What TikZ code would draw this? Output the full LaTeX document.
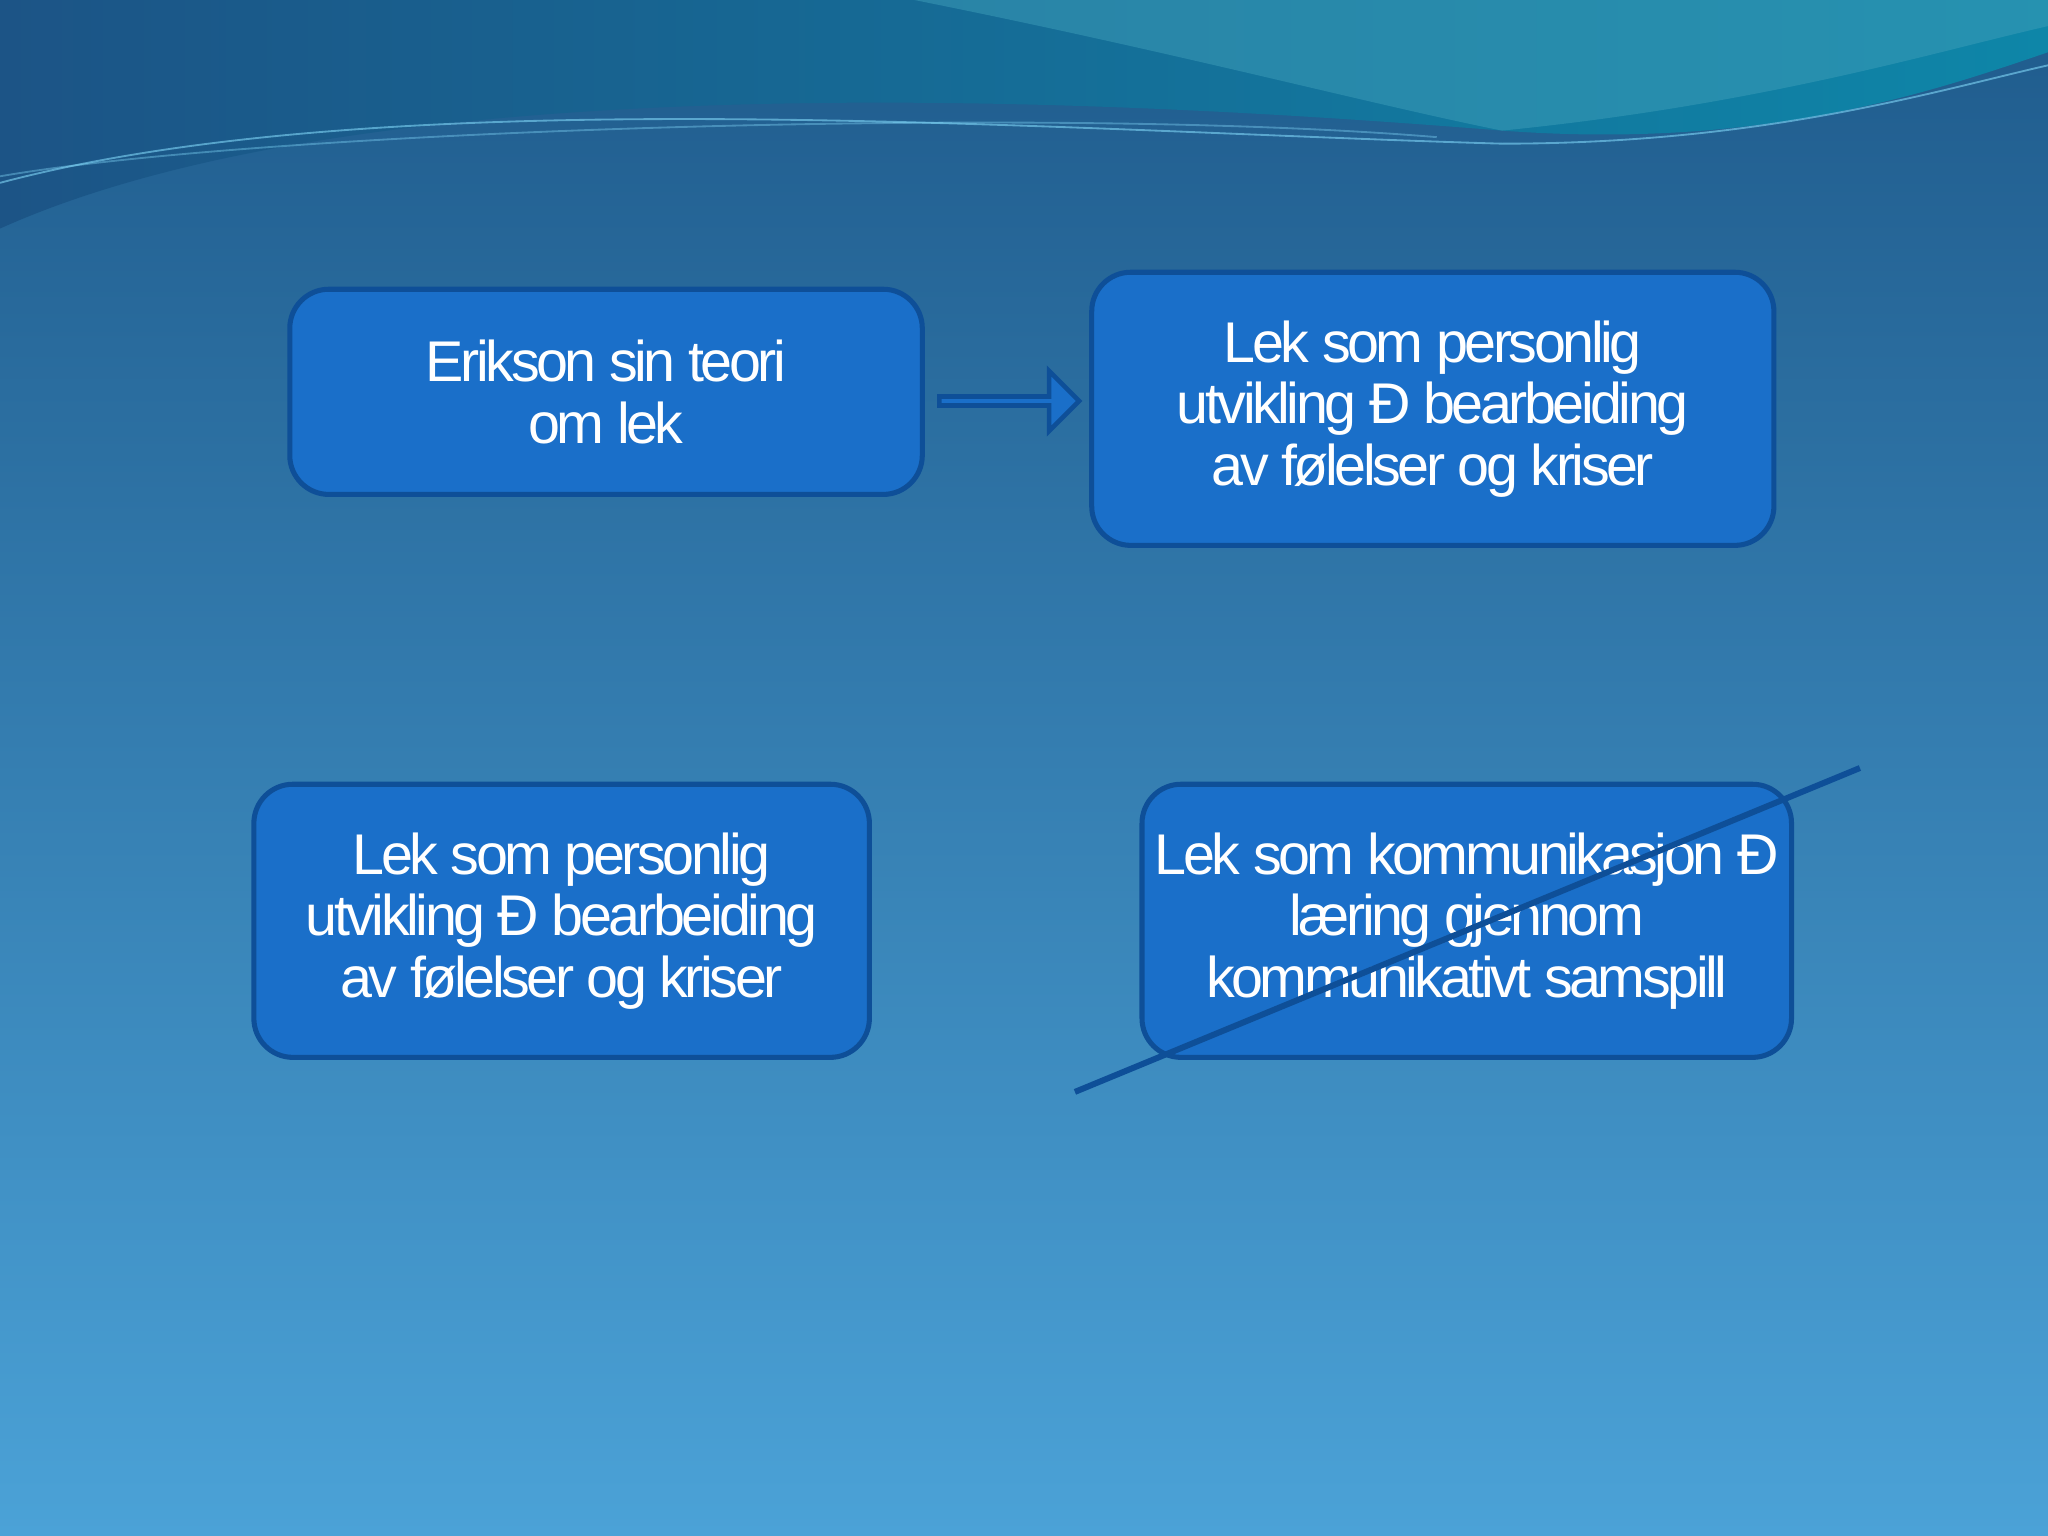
\documentclass[tikz,border=0pt]{standalone}
\usepackage{fontspec}
\setmainfont{Liberation Sans}
\usetikzlibrary{shapes.arrows}
\definecolor{boxfill}{HTML}{1A6FC9}
\definecolor{boxline}{HTML}{0E4F98}
\definecolor{bgtop}{HTML}{1F5B8C}
\definecolor{bgbot}{HTML}{4BA2D7}
\definecolor{wavel}{HTML}{1C5486}
\definecolor{waver}{HTML}{0E86A8}
\tikzset{
  card/.style={draw=boxline, line width=1.1pt, fill=boxfill, rounded corners=8.5pt,
    text=white, align=center, font=\fontsize{12.5}{13.4}\selectfont\addfontfeature{LetterSpace=-6}, inner sep=0pt},
}
\begin{document}
\begin{tikzpicture}[x=0.01cm,y=-0.01cm]
\useasboundingbox (0,0) rectangle (1568,1176);
\shade[top color=bgtop, bottom color=bgbot] (0,0) rectangle (1568,1176);
\shade[left color=wavel, right color=waver] (0,0) -- (0,175) .. controls (300,40) and (900,80) .. (1150,100) .. controls (1350,115) and (1480,70) .. (1568,40) -- (1568,0) -- cycle;
\fill[waver!80!white, opacity=0.5] (700,0) .. controls (900,40) and (1050,80) .. (1150,100) .. controls (1350,80) and (1480,40) .. (1568,20) -- (1568,0) -- cycle;
\draw[cyan!50!white, opacity=0.6, line width=0.4pt] (0,140) .. controls (300,60) and (800,100) .. (1150,110) .. controls (1350,110) and (1480,70) .. (1568,50);
\draw[cyan!50!white, opacity=0.4, line width=0.4pt] (0,135) .. controls (200,100) and (800,80) .. (1100,105);

\node[card, minimum width=4.84cm, minimum height=1.57cm] (a) at (464,300) {Erikson sin teori\\om lek};
\node[card, minimum width=5.22cm, minimum height=2.09cm] (b) at (1097,313) {Lek som personlig\\utvikling Ð bearbeiding\\av følelser og kriser};
\node[card, minimum width=4.71cm, minimum height=2.09cm] (c) at (430,705) {Lek som personlig\\utvikling Ð bearbeiding\\av følelser og kriser};
\node[card, minimum width=4.97cm, minimum height=2.09cm] (d) at (1123,705) {Lek som kommunikasjon Ð\\læring gjennom\\kommunikativt samspill};
\node[single arrow, draw=boxline, fill=boxfill, line width=1pt, minimum height=1.07cm,
  minimum width=0.46cm, single arrow head extend=0.1cm, single arrow tip angle=90, inner sep=0pt] (arr) at (771,307) {};
\coordinate (s1) at (823,836);
\coordinate (s2) at (1424,588);
\draw[boxline, line width=1.3pt] (s1) -- (s2);
\end{tikzpicture}
\end{document}
